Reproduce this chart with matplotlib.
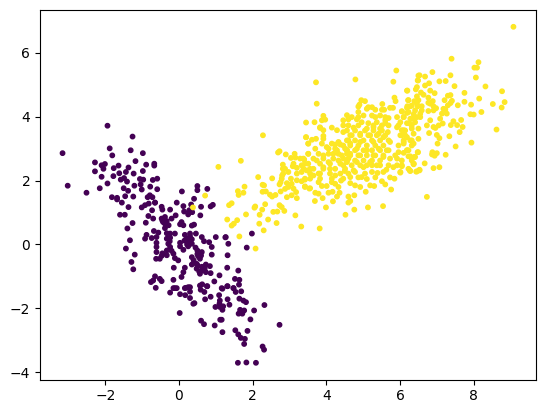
import matplotlib
matplotlib.use("Agg")
import matplotlib.pyplot as plt

cluster_0 = [
(-1.94,3.72),(-1.26,3.38),(-3.16,2.86),(-1.88,3.01),(-1.81,2.79),(-1.31,2.95),(-0.98,2.86),(-1.18,2.61),(-2.28,2.57),
(-2.10,2.48),(-2.01,2.52),(-2.05,2.37),(-1.77,2.39),(-1.64,2.47),(-1.37,2.41),(-0.89,2.50),(-0.67,2.53),(-0.67,2.47),
(-2.28,2.29),(-2.10,2.12),(-1.78,2.14),(-1.62,2.23),(-1.44,2.27),(-1.23,2.22),(-0.98,2.30),(-1.58,2.03),(-1.49,2.08),
(-1.41,1.97),(-1.06,2.05),(-0.97,2.03),(-0.71,2.02),(-0.59,2.06),(-1.94,1.91),(-1.21,1.84),(-1.04,1.88),(-0.78,1.81),
(-3.02,1.84),(-2.15,1.76),(-1.50,1.76),(-1.01,1.72),(-0.59,1.73),(-2.51,1.62),(-1.38,1.68),(-1.82,1.48),(-1.68,1.46),
(-1.46,1.51),(-1.24,1.50),(-0.79,1.54),(-0.85,1.48),(-0.72,1.48),(-0.65,1.31),(-0.82,1.28),(-0.92,1.23),(-1.01,1.16),
(-1.37,1.17),(-1.55,1.31),(-1.68,1.41),
(-0.06,1.31),(0.08,1.66),(0.41,1.43),(0.33,1.25),(0.12,1.20),(0.60,1.18),(-0.47,1.18),(-0.45,1.09),(-0.24,1.09),
(-0.65,1.31),(0.14,1.03),(0.28,1.07),(0.25,0.94),(0.36,1.01),(0.58,0.91),(-0.73,1.07),(-1.47,0.93),(-1.60,0.93),
(-0.83,0.89),(-0.70,0.81),(-0.09,0.91),(-0.47,0.81),(-0.38,0.86),(-0.20,0.81),(-0.43,0.70),(-0.33,0.73),(-0.90,0.68),
(-1.26,0.67),(-1.40,0.50),(0.07,0.70),(0.03,0.63),(0.12,0.60),(0.35,0.59),(0.41,0.62),(-0.68,0.42),(-0.38,0.51),
(-0.24,0.34),(-0.11,0.34),(-0.88,0.30),(-0.56,0.37),(-0.33,0.35),(-0.92,0.18),(-0.74,0.20),(-0.61,0.23),(-1.33,0.13),
(-0.33,0.18),(-0.24,0.21),(0.16,0.30),(0.30,0.34),(0.46,0.34),(0.21,0.18),(0.35,0.16),(0.62,0.23),(1.00,0.23),(1.26,0.22),
(0.68,0.10),(0.82,0.07),(1.34,0.02),(-0.61,0.05),(-0.29,0.02),(0.03,0.05),(0.25,0.07),(0.35,0.02),(-0.61,-0.08),
(-0.24,-0.08),(0.03,-0.06),(0.25,-0.06),(-1.44,-0.13),(0.89,-0.08),(-0.33,-0.19),(0.12,-0.17),(0.50,-0.19),(0.62,-0.24),
(-0.61,-0.24),(-0.15,-0.29),(-1.20,-0.32),(0.89,-0.32),(1.32,-0.34),(-0.47,-0.36),(-0.33,-0.34),(0.35,-0.40),(0.52,-0.37),
(-0.62,-0.45),(-0.52,-0.45),(-0.11,-0.43),(-0.02,-0.50),(0.57,-0.45),(-1.29,-0.55),(0.35,-0.63),(0.48,-0.61),(0.73,-0.63),
(0.84,-0.68),(-0.14,-0.73),(0.16,-0.73),(-1.24,-0.78),(1.31,-0.73),(0.48,-0.76),(0.62,-0.82),(0.73,-0.87),(0.12,-0.87),
(0.86,-0.90),(1.61,-0.82),(1.10,-0.97),(-0.65,-1.00),(0.07,-1.02),(0.57,-0.92),(1.52,-1.08),(1.64,-1.11),(-0.52,-1.08),
(-0.70,-1.13),(-0.15,-1.11),(0.96,-1.16),(-0.47,-1.15),(-0.76,-1.18),(0.57,-1.29),(0.77,-1.31),(1.31,-1.31),(1.16,-1.37),
(1.48,-1.37),(-0.63,-1.36),(-0.15,-1.37),(-0.06,-1.37),(0.25,-1.34),(0.16,-1.37),
(-0.24,-1.51),(-0.11,-1.37),(0.03,-1.56),(0.17,-1.59),(0.19,-1.36),(0.30,-1.34),(0.30,-1.48),(0.30,-1.68),(0.59,-1.42),
(0.69,-1.49),(0.63,-1.25),(0.76,-1.31),(1.18,-1.39),(1.32,-1.31),(1.48,-1.37),(1.54,-1.49),(1.69,-1.47),(1.63,-1.26),
(0.86,-1.64),(0.71,-1.72),(1.09,-1.59),(1.32,-1.72),(1.11,-1.76),(1.64,-1.70),(1.75,-1.76),(1.82,-1.81),(2.32,-1.90),
(1.10,-1.86),(1.37,-1.89),(0.99,-1.96),(1.20,-1.94),(1.11,-1.96),(0.39,-1.86),(0.42,-1.84),(1.18,-2.05),(2.04,-2.07),
(1.66,-2.05),(1.77,-2.07),(1.62,-2.17),(1.72,-2.17),(0.02,-2.15),(1.94,-2.35),(0.60,-2.39),(0.68,-2.50),(1.16,-2.36),
(1.12,-2.36),(0.97,-2.54),(2.73,-2.52),(1.53,-2.69),(1.86,-2.71),(1.18,-2.75),(1.61,-2.82),(1.68,-2.93),(1.79,-2.96),
(1.77,-3.12),(2.27,-3.20),(2.31,-3.30),(1.60,-3.71),(1.83,-3.70),(2.09,-3.71),
(0.50,1.83),(0.50,1.70),(0.77,1.74),(0.92,1.24),(0.86,1.19),(1.98,0.34),(1.27,0.23),(1.84,-0.10),
(-0.45,0.75),(-0.38,0.65),(-0.28,0.60),(0.15,0.12),(0.28,0.12),(0.30,0.25),(0.22,0.00),(0.50,-0.30),(0.60,-0.35),
(0.62,-0.70),(0.55,-0.85),(0.50,-0.65),(-0.20,-0.20),(-0.25,0.10),(-0.45,-0.28),(0.45,-0.10),(0.40,-0.50),(0.70,-0.75),
]

cluster_1 = [
(0.38,1.16),(0.71,1.53),(2.28,3.42),(1.07,2.43),(1.68,2.62),(2.69,2.88),(2.73,2.92),(2.90,2.82),(3.51,3.16),(3.45,3.36),
(3.14,2.84),(3.04,2.71),(3.16,2.72),(3.40,2.66),(2.82,2.50),(3.09,2.45),(2.82,2.37),(2.97,2.27),(3.20,2.40),(3.33,2.48),
(3.42,2.53),(2.80,2.16),(2.15,2.11),(2.53,2.07),(3.04,2.06),(3.20,2.01),(3.33,1.98),(3.42,2.03),(2.76,1.95),(2.73,1.88),
(2.93,1.92),(3.06,1.90),(2.27,1.87),(2.31,1.85),(1.78,1.81),(3.42,1.80),(3.54,1.75),(2.88,1.74),(2.97,1.80),(3.11,1.75),
(1.60,1.67),(2.27,1.65),(2.36,1.66),(2.76,1.66),(1.75,1.62),(1.62,1.55),(3.18,1.64),(3.06,1.54),(2.47,1.56),(2.53,1.50),
(2.62,1.55),(2.93,1.48),(3.20,1.45),(1.43,1.29),(1.36,1.23),(2.34,1.26),(2.73,1.23),(2.79,1.17),(2.07,1.19),(2.05,1.15),
(1.82,0.94),(2.26,1.09),(2.56,1.02),(2.67,1.03),(2.86,1.05),(2.19,0.93),(3.16,0.91),(1.31,0.78),(1.58,0.76),(2.42,0.78),
(1.49,0.65),(1.43,0.59),(2.18,0.65),(2.65,0.67),(3.32,0.56),(2.30,0.44),(1.64,0.25),(2.08,-0.13),
(3.72,5.08),(4.79,5.17),(5.82,5.10),(5.90,5.45),(6.48,5.14),(6.53,5.30),(6.19,4.82),(5.85,4.60),(5.88,4.49),(6.23,4.52),
(4.95,4.52),(5.05,4.49),(4.90,4.38),(4.87,4.32),(3.74,4.41),(5.52,4.40),(5.14,4.30),(5.24,4.30),(5.10,4.25),(5.73,4.28),
(5.81,4.28),(6.20,4.33),(6.32,4.35),(6.46,4.41),(5.51,4.22),(5.57,4.22),(5.33,4.22),(4.87,4.15),(6.05,4.17),(6.23,4.15),
(6.41,4.20),(5.01,4.04),(5.24,4.04),(5.46,4.04),(3.92,4.03),(4.56,4.05),(5.69,3.96),(5.60,3.89),(5.92,3.99),(6.10,3.99),
(6.28,3.94),(6.46,3.99),(4.46,3.89),(4.60,3.92),(4.83,3.92),(3.88,3.89),(3.97,3.91),(3.45,3.82),(3.68,3.83),(4.46,3.73),
(4.96,3.83),(5.14,3.80),(5.37,3.83),(5.60,3.80),(6.01,3.83),(6.19,3.80),(6.41,3.83),(4.15,3.66),(4.29,3.58),(3.83,3.67),
(3.92,3.58),(4.46,3.52),(4.74,3.66),(5.10,3.63),(5.28,3.67),(5.46,3.63),(5.92,3.67),(6.10,3.58),(6.32,3.63),(5.67,3.52),
(3.92,3.40),(3.45,3.36),(3.61,3.28),(3.72,3.31),(4.65,3.42),(4.92,3.47),(5.19,3.42),(5.42,3.47),(5.55,3.36),(6.01,3.42),
(6.19,3.36),(6.37,3.47),(6.50,3.31),(3.51,3.16),(3.88,3.16),(4.24,3.13),(4.38,3.13),(4.65,3.16),(4.92,3.21),(5.28,3.21),
(5.73,3.21),(6.10,3.21),(6.32,3.10),(3.70,3.00),(4.06,3.00),(4.29,2.95),(4.51,3.00),(4.83,3.00),(5.10,2.95),(5.42,3.00),
(5.64,2.95),(5.96,2.89),(6.19,2.95),(6.48,2.89),(3.51,2.84),(3.92,2.79),(4.19,2.84),(4.42,2.79),(4.65,2.84),(4.92,2.79),
(5.28,2.79),(5.55,2.74),(5.92,2.69),(6.28,2.76),(6.41,2.74),(3.38,2.69),(3.74,2.63),(4.06,2.58),(4.33,2.63),(4.56,2.58),
(4.83,2.58),(5.19,2.58),(5.46,2.48),(5.73,2.69),(5.92,2.48),(6.23,2.37),(6.37,2.53),
(3.82,0.50),(4.52,0.93),(4.76,1.09),(5.13,1.16),(5.54,1.20),(3.99,1.16),(3.69,1.36),(4.18,1.35),(4.60,1.31),(4.65,1.36),
(4.60,1.50),(4.76,1.54),(3.90,1.45),(4.29,1.50),(4.36,1.62),(3.70,1.62),(3.79,1.59),(4.06,1.62),(4.17,1.65),(5.07,1.65),
(5.76,1.72),(3.42,1.82),(3.56,1.76),(4.01,1.83),(4.15,1.95),(4.24,1.90),(4.33,1.80),(3.79,1.95),(3.88,1.83),(4.65,1.92),
(4.78,1.85),(4.92,1.80),(5.19,1.85),(5.30,1.83),(5.51,1.98),(5.60,1.88),(5.85,2.06),(3.42,2.06),(3.65,2.16),(3.83,2.22),
(4.24,2.16),(4.65,2.11),(4.96,2.11),(5.24,2.27),(5.39,2.24),(5.63,2.34),(6.01,2.27),(6.28,2.30),(6.46,2.29),(6.53,2.34),
(6.37,2.53),(6.05,2.48),(5.82,2.42),(5.55,2.27),(3.47,2.32),(3.33,2.27),(3.56,2.37),(3.92,2.42),(4.10,2.37),(4.46,2.48),
(4.74,2.32),(5.01,2.42),(5.24,2.48),
(9.08,6.82),(7.40,5.82),(8.13,5.71),(8.02,5.54),(8.09,5.54),(6.88,5.40),(7.37,5.30),(6.50,5.29),(6.49,5.14),(6.68,5.26),
(8.06,5.23),(7.07,5.11),(7.24,5.12),(6.79,5.05),(6.68,4.98),(7.48,4.96),(8.32,4.95),(6.20,4.82),(6.43,4.86),(6.46,4.93),
(6.82,4.82),(6.94,4.74),(6.57,4.76),(6.64,4.69),(8.77,4.80),(7.75,4.75),(7.30,4.66),(7.37,4.68),(6.46,4.64),(6.77,4.60),
(8.15,4.57),(7.21,4.52),(7.41,4.50),(6.22,4.52),(6.39,4.49),(6.50,4.52),(6.89,4.49),(6.77,4.44),(7.75,4.47),(8.84,4.46),
(7.30,4.36),(7.57,4.36),(7.93,4.38),(8.52,4.40),(8.76,4.29),(6.28,4.33),(6.19,4.28),(6.48,4.33),(6.59,4.33),(6.82,4.41),
(6.91,4.33),(6.98,4.27),(7.23,4.23),(7.14,4.10),(7.27,4.10),(6.59,4.20),(6.77,4.18),(6.91,4.20),(8.21,4.15),(7.91,4.08),
(8.00,4.07),(6.05,4.17),(6.19,4.12),(6.37,4.08),(6.55,4.10),
(7.66,3.90),(7.45,3.86),(7.38,3.74),(7.55,3.74),(7.70,3.68),(8.62,3.60),(7.62,3.52),(7.34,3.39),(7.16,3.79),(7.05,3.73),
(6.96,3.65),(6.79,3.49),(7.00,3.43),(7.07,3.33),(7.02,3.16),(7.51,3.07),(7.94,3.19),(6.49,2.89),(6.10,2.87),(7.00,2.86),
(6.88,2.89),(6.87,2.82),(6.94,2.78),(7.24,2.81),(6.23,2.76),(6.39,2.74),(6.32,2.63),(6.37,2.51),(6.67,2.54),(6.05,2.45),
(6.91,2.39),(7.07,2.42),(6.27,2.31),(6.44,2.28),(6.53,2.32),(6.01,2.25),(6.73,1.49),
(6.37,3.94),(6.55,3.99),(6.73,3.73),(6.82,3.89),(6.91,3.68),(7.09,3.94),(6.50,3.63),(6.28,3.78),(6.10,3.99),(6.05,3.58),
(6.14,3.42),(6.28,3.26),(6.10,3.16),(6.37,3.16),(6.19,2.95),(7.18,4.25),(7.37,4.43),
# dense core, left half
(3.51,2.84),(3.79,2.84),(4.06,2.84),(4.33,2.84),(4.56,2.84),(3.29,2.69),(3.65,2.69),(3.92,2.69),(4.19,2.69),(4.46,2.69),(4.60,2.69),
(3.11,2.53),(3.51,2.53),(3.83,2.53),(4.10,2.53),(4.38,2.53),(2.88,2.37),(3.38,2.37),(3.65,2.37),(3.92,2.37),(4.24,2.37),(4.51,2.37),
(2.83,2.22),(3.20,2.22),(3.56,2.22),(3.79,2.22),(4.10,2.22),(4.38,2.22),(4.60,2.22),(2.79,2.06),(3.56,2.06),(3.83,2.06),(4.15,2.06),(4.46,2.06),
(3.92,3.31),(3.83,3.65),(4.15,3.16),(4.01,3.05),(4.33,3.21),(4.24,3.00),(4.46,3.10),(4.60,3.26),(4.56,2.95),
# dense core, right half
(4.69,3.99),(4.87,3.99),(5.33,3.99),(5.60,3.99),(4.60,3.73),(4.87,3.73),(5.28,3.73),(5.51,3.73),(5.69,3.73),(5.96,3.73),(6.32,3.73),
(4.56,3.57),(4.78,3.57),(5.05,3.57),(5.28,3.57),(5.51,3.57),(6.14,3.57),(4.69,3.42),(4.92,3.42),(5.14,3.42),(5.37,3.42),(5.60,3.42),(6.05,3.42),
(4.56,3.26),(4.78,3.26),(5.01,3.26),(5.24,3.26),(5.46,3.26),(5.69,3.26),(6.10,3.26),(6.32,3.26),(4.65,3.10),(4.87,3.10),(5.10,3.10),(5.33,3.10),(5.55,3.10),(5.96,3.10),
(4.56,2.95),(4.78,2.95),(5.01,2.95),(5.24,2.95),(5.46,2.95),(5.69,2.95),(6.23,2.95),(4.65,2.79),(4.87,2.79),(5.10,2.79),(5.33,2.79),(5.55,2.79),(5.87,2.79),
(4.56,2.63),(4.78,2.63),(5.01,2.63),(5.24,2.63),(5.46,2.63),(6.05,2.63),(4.69,2.48),(4.92,2.48),(5.10,2.48),(5.37,2.48),(5.69,2.48),
(4.78,2.27),(5.05,2.22),(4.50,2.30),(4.87,2.10),(5.10,2.05),(4.40,2.00),(5.33,2.10),(5.73,2.10),
]

x0, y0 = zip(*cluster_0)
x1, y1 = zip(*cluster_1)
xs = list(x0) + list(x1)
ys = list(y0) + list(y1)
labels = [0] * len(x0) + [1] * len(x1)

fig = plt.figure(figsize=(5.46, 4.13), dpi=100)
ax = fig.add_axes([40 / 546, 1 - 379.6 / 413, 496 / 546, 369.6 / 413])
ax.scatter(xs, ys, c=labels, s=10)
fig.savefig("out.png", dpi=100)
